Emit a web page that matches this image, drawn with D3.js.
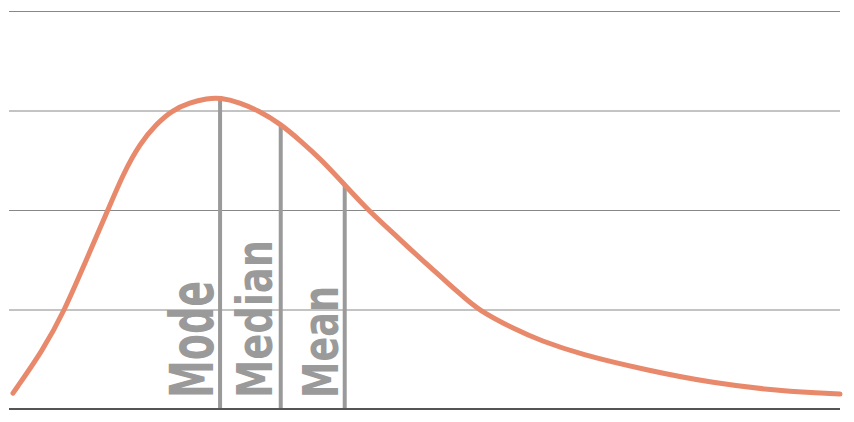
<!DOCTYPE html>
<html>
<head>
<meta charset="utf-8">
<script src="https://cdn.jsdelivr.net/npm/d3@7"></script>
<style>
  body { margin: 0; background: #fff; }
  .grid line { stroke: #888; stroke-width: 1; }
  .label { font-family: "DejaVu Sans", sans-serif; fill: #9a9a9a; font-weight: bold; }
</style>
</head>
<body>
<div id="chart"></div>
<script>
var margin = { top: 11, right: 14, bottom: 13, left: 9 },
	width = 854 - margin.left - margin.right,
	height = 422 - margin.top - margin.bottom;

// skewed distribution curve
var curveX = [0.48, 4.09, 6.74, 9.15, 11.91, 13.72, 15.76, 17.81, 19.61, 21.78, 23.83, 25.39, 27.80, 29.96, 32.61, 35.02, 37.42, 40.43, 43.20, 46.21, 50.30, 54.27, 56.32, 61.13, 63.90, 68.71, 76.77, 84.72, 92.78, 100];
var curveY = [0.16, 0.59, 1.0, 1.47, 2.0, 2.36, 2.67, 2.87, 3.0, 3.08, 3.12, 3.13, 3.08, 3.0, 2.87, 2.70, 2.52, 2.25, 2.0, 1.77, 1.45, 1.16, 1.0, 0.79, 0.69, 0.55, 0.39, 0.26, 0.18, 0.15];

var markerNames = ['Mode', 'Median', 'Mean'];
var markerX = [25.4, 32.7, 40.4];
var markerY = [3.13, 2.87, 2.24];

var gridTicks = [0, 1, 2, 3, 4];

var svg = d3.select('#chart').append('svg')
	.attr('width', 854)
	.attr('height', 422)
	.append('g')
	.attr('transform', 'translate(' + margin.left + ',' + margin.top + ')');

var x = d3.scaleLinear().domain([0, 100]).range([0, width]);
var y = d3.scaleLinear().domain([0, 4]).range([height, 0]);

// horizontal grid lines
svg.append('g')
	.attr('class', 'grid')
	.call(d3.axisLeft(y).tickValues(gridTicks.slice(1)).tickSize(-width).tickFormat(''))
	.call(function(g) { g.select('.domain').remove(); });

// markers
var markerWidths = [117, 158, 112];
var labelOffset = [-7, -9, -7];
var fontSizes = [60, 50, 50];

svg.selectAll('.marker')
	.data(markerNames)
	.enter().append('line')
	.attr('class', 'marker')
	.attr('x1', function(d, i) { return x(markerX[i]); })
	.attr('x2', function(d, i) { return x(markerX[i]); })
	.attr('y1', y(0))
	.attr('y2', function(d, i) { return y(markerY[i]); })
	.style('stroke', '#9a9a9a')
	.style('stroke-width', 4);

svg.selectAll('.label')
	.data(markerNames)
	.enter().append('text')
	.attr('class', 'label')
	.text(function(d) { return d; })
	.attr('font-size', function(d, i) { return fontSizes[i]; })
	.attr('textLength', function(d, i) { return markerWidths[i]; })
	.attr('lengthAdjust', 'spacingAndGlyphs')
	.attr('transform', function(d, i) {
		return 'translate(' + (x(markerX[i]) + labelOffset[i]) + ',' + (y(0) - 11) + ') rotate(-90)';
	});

// baseline
svg.append('line')
	.attr('x1', 0).attr('x2', width)
	.attr('y1', y(0)).attr('y2', y(0))
	.style('stroke', '#555')
	.style('stroke-width', 2);

// the curve
var line = d3.line()
	.x(function(d, i) { return x(curveX[i]); })
	.y(function(d) { return y(d); })
	.curve(d3.curveBasis);

svg.append('path')
	.datum(curveY)
	.attr('d', line)
	.style('fill', 'none')
	.style('stroke', '#e8896b')
	.style('stroke-width', 5)
	.style('stroke-linecap', 'round');
</script>
</body>
</html>
